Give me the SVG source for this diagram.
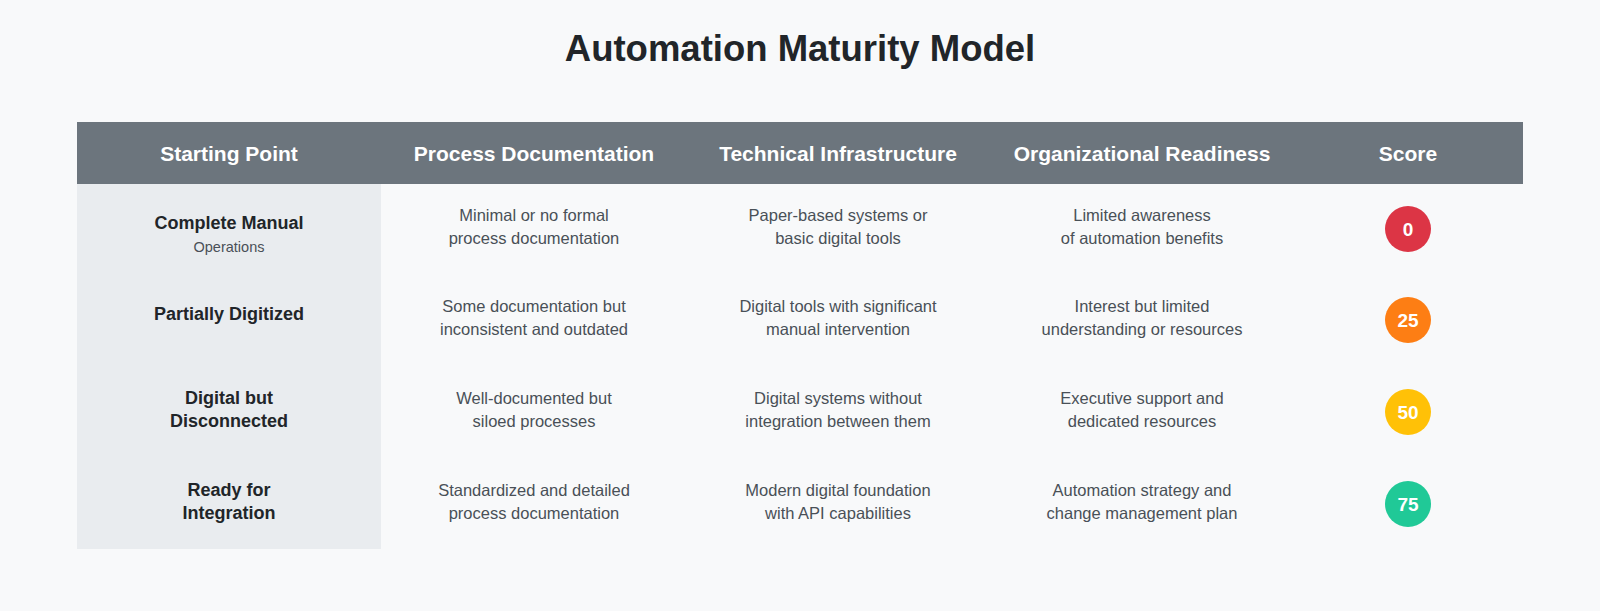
<svg xmlns="http://www.w3.org/2000/svg" width="1600" height="611" viewBox="0 0 1600 611">
<style>
text{font-family:"Liberation Sans",Arial,sans-serif;text-anchor:middle}
.t{font-size:36.5px;font-weight:bold;fill:#212529}
.h{font-size:21px;font-weight:bold;fill:#fff}
.r{font-size:18px;font-weight:bold;fill:#212529}
.s{font-size:14.5px;fill:#495057}
.c{font-size:16.5px;fill:#495057}
.n{font-size:19px;font-weight:bold;fill:#fff}
</style>
<rect width="1600" height="611" fill="#f8f9fa"/>
<text class="t" x="800" y="61">Automation Maturity Model</text>
<g id="header">
<rect x="77" y="122" width="1446" height="62" fill="#6c757d"/>
<text class="h" x="229" y="161">Starting Point</text>
<text class="h" x="534" y="161">Process Documentation</text>
<text class="h" x="838" y="161">Technical Infrastructure</text>
<text class="h" x="1142" y="161">Organizational Readiness</text>
<text class="h" x="1408" y="161">Score</text>
</g>
<rect x="77" y="184" width="304" height="365" fill="#e9ecef"/>
<g id="row1">
<text class="r" x="229" y="229">Complete Manual</text>
<text class="s" x="229" y="252">Operations</text>
<text class="c" x="534" y="221">Minimal or no formal</text>
<text class="c" x="534" y="244">process documentation</text>
<text class="c" x="838" y="221">Paper-based systems or</text>
<text class="c" x="838" y="244">basic digital tools</text>
<text class="c" x="1142" y="221">Limited awareness</text>
<text class="c" x="1142" y="244">of automation benefits</text>
<circle cx="1408" cy="229" r="23" fill="#dc3545"/>
<text class="n" x="1408" y="236">0</text>
</g>
<g id="row2">
<text class="r" x="229" y="320">Partially Digitized</text>
<text class="c" x="534" y="312">Some documentation but</text>
<text class="c" x="534" y="335">inconsistent and outdated</text>
<text class="c" x="838" y="312">Digital tools with significant</text>
<text class="c" x="838" y="335">manual intervention</text>
<text class="c" x="1142" y="312">Interest but limited</text>
<text class="c" x="1142" y="335">understanding or resources</text>
<circle cx="1408" cy="320" r="23" fill="#fd7e14"/>
<text class="n" x="1408" y="327">25</text>
</g>
<g id="row3">
<text class="r" x="229" y="404">Digital but</text>
<text class="r" x="229" y="427">Disconnected</text>
<text class="c" x="534" y="404">Well-documented but</text>
<text class="c" x="534" y="427">siloed processes</text>
<text class="c" x="838" y="404">Digital systems without</text>
<text class="c" x="838" y="427">integration between them</text>
<text class="c" x="1142" y="404">Executive support and</text>
<text class="c" x="1142" y="427">dedicated resources</text>
<circle cx="1408" cy="412" r="23" fill="#ffc107"/>
<text class="n" x="1408" y="419">50</text>
</g>
<g id="row4">
<text class="r" x="229" y="496">Ready for</text>
<text class="r" x="229" y="519">Integration</text>
<text class="c" x="534" y="496">Standardized and detailed</text>
<text class="c" x="534" y="519">process documentation</text>
<text class="c" x="838" y="496">Modern digital foundation</text>
<text class="c" x="838" y="519">with API capabilities</text>
<text class="c" x="1142" y="496">Automation strategy and</text>
<text class="c" x="1142" y="519">change management plan</text>
<circle cx="1408" cy="504" r="23" fill="#20c997"/>
<text class="n" x="1408" y="511">75</text>
</g>
<g id="connectors"/>
</svg>
